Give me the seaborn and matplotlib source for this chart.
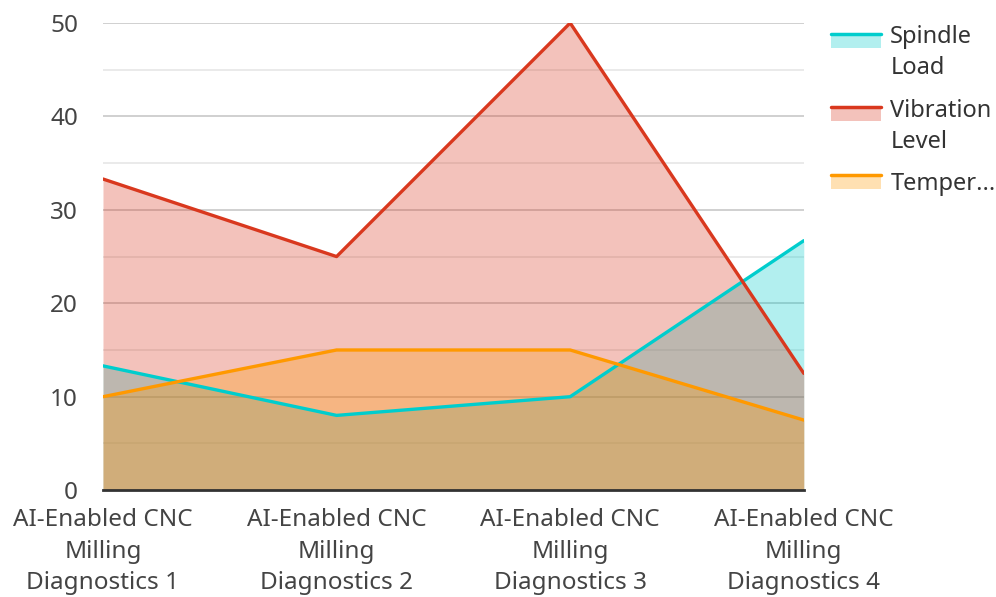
import matplotlib
matplotlib.use("Agg")
import matplotlib.pyplot as plt
import seaborn as sns
import pandas as pd
from matplotlib.lines import Line2D
from matplotlib.patches import Rectangle
from matplotlib.legend_handler import HandlerBase
from matplotlib.ticker import MultipleLocator

categories = ["AI-Enabled CNC\nMilling\nDiagnostics 1",
              "AI-Enabled CNC\nMilling\nDiagnostics 2",
              "AI-Enabled CNC\nMilling\nDiagnostics 3",
              "AI-Enabled CNC\nMilling\nDiagnostics 4"]
spindle_load = [13.3, 8, 10, 26.7]
vibration_level = [33.3, 25, 50, 12.5]
temperature = [10, 15, 15, 7.5]

series_names = ["Spindle\nLoad", "Vibration\nLevel", "Temper..."]
series_values = [spindle_load, vibration_level, temperature]
colors = ["#00CDCD", "#D9381E", "#FF9900"]

sns.set_theme(style="white")
plt.rcParams["font.family"] = ["Noto Sans", "DejaVu Sans"]

rows = []
for name, vals in zip(series_names, series_values):
    for i, v in enumerate(vals):
        rows.append({"x": i, "value": v, "series": name})
df = pd.DataFrame(rows)

fig = plt.figure(figsize=(9.96, 5.97), dpi=100)
ax = fig.add_axes([0.1034, 0.179, 0.7036, 0.7825])

for name, vals, c in zip(series_names, series_values, colors):
    ax.fill_between(range(len(vals)), vals, 0, color=c, alpha=0.3, linewidth=0, zorder=2)

sns.lineplot(data=df, x="x", y="value", hue="series", palette=colors,
             linewidth=2.4, ax=ax, legend=False, zorder=3)

ax.set_xlim(0, 3)
ax.set_ylim(0, 50)
ax.yaxis.set_major_locator(MultipleLocator(10))
ax.yaxis.set_minor_locator(MultipleLocator(5))
ax.grid(which="major", axis="y", color="#c8c8c8", linewidth=1.2, zorder=1)
ax.grid(which="minor", axis="y", color="#e6e6e6", linewidth=1.2, zorder=1)
ax.set_axisbelow(True)
ax.set_xticks(range(len(categories)))
ax.set_xticklabels(categories, linespacing=1.42)
ax.tick_params(axis="both", which="both", length=0, labelsize=17.5, colors="#444444")
ax.tick_params(axis="x", pad=13)
ax.tick_params(axis="y", pad=18)
ax.set_xlabel("")
ax.set_ylabel("")
for s in ["left", "right", "top"]:
    ax.spines[s].set_visible(False)
ax.spines["bottom"].set_color("#333333")
ax.spines["bottom"].set_linewidth(2)
ax.spines["bottom"].set_zorder(4)


class AreaHandler(HandlerBase):
    # swatch aligned with the first line of a wrapped label
    def create_artists(self, legend, orig_handle, xdescent, ydescent,
                       width, height, fontsize, trans):
        c = orig_handle.get_color()
        lift = getattr(orig_handle, "extra_lines", 0) * 9.0
        y0 = -ydescent + lift
        rect = Rectangle((-xdescent, y0), width, height,
                         facecolor=c, alpha=0.3, linewidth=0, transform=trans)
        line = Line2D([-xdescent, -xdescent + width], [y0 + height, y0 + height],
                      color=c, linewidth=2.5, transform=trans)
        return [rect, line]


handles = []
for name, c in zip(series_names, colors):
    h = Line2D([], [], color=c)
    h.extra_lines = name.count("\n")
    handles.append(h)
leg = fig.legend(handles, series_names, handler_map={Line2D: AreaHandler()},
                 loc="upper left", bbox_to_anchor=(0.818, 0.985), frameon=False,
                 fontsize=17, handlelength=2.1, handleheight=0.55,
                 handletextpad=0.4, labelspacing=0.78, borderpad=0.2)
for t in leg.get_texts():
    t.set_color("#333333")
    t.set_linespacing(1.38)

fig.savefig("out.png", dpi=100)
